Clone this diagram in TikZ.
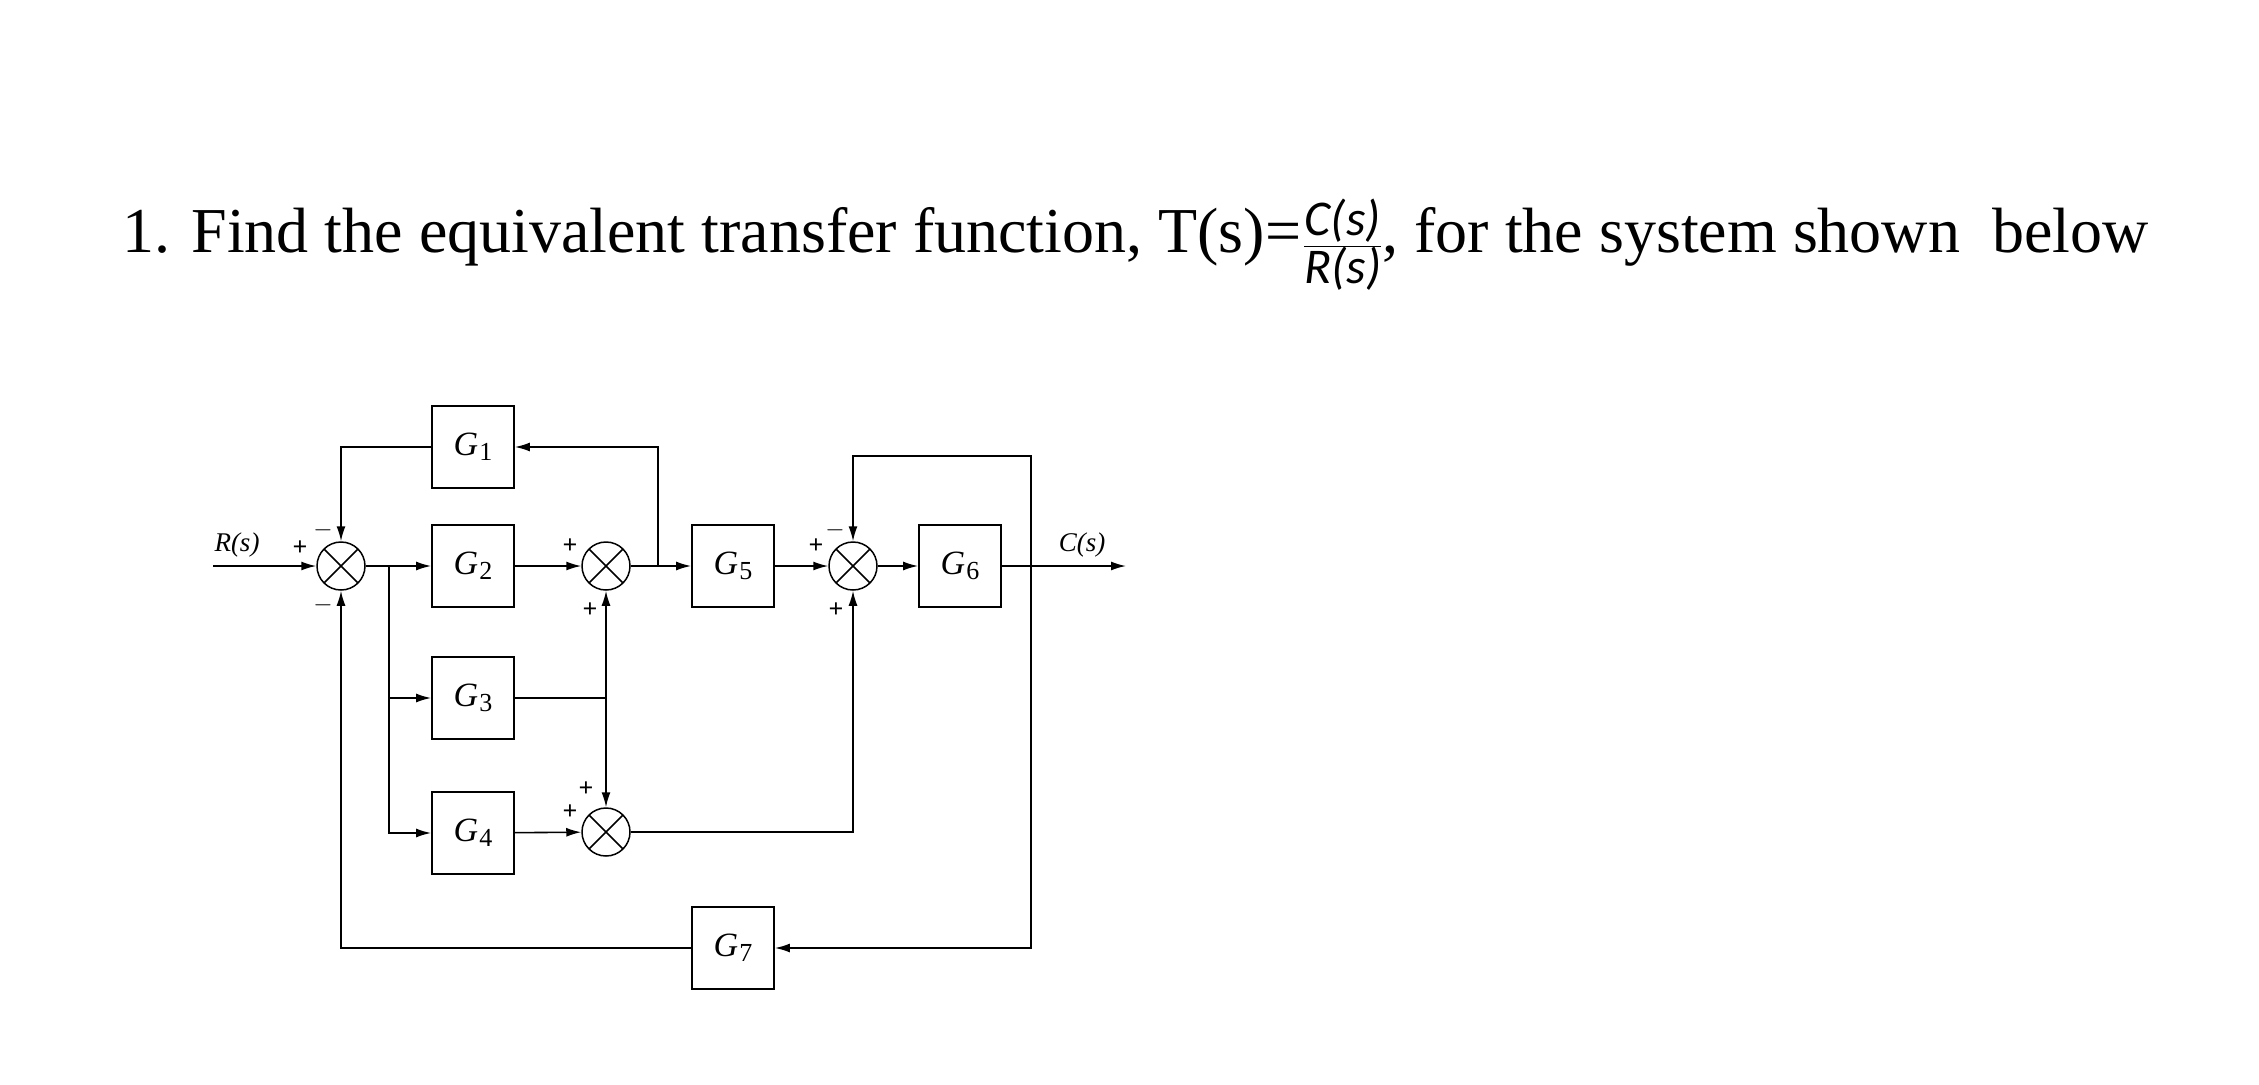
\documentclass[tikz,border=0pt]{standalone}
\usepackage{fontspec}
\setmainfont{Liberation Serif}
\newfontfamily\fracfont{Carlito}
\usetikzlibrary{arrows.meta}
\newcommand{\gl}[1]{\textit{G}\kern1pt\raisebox{-5pt}{\fontsize{26}{26}\selectfont #1}}
\newcommand{\fr}[1]{\hbox{\fracfont\itshape\fontsize{50}{50}\selectfont #1}}
\begin{document}
\begin{tikzpicture}[x=1pt,y=-1pt,
  blk/.style={draw,line width=1.8pt,minimum width=82pt,minimum height=82pt,inner sep=0pt,font=\fontsize{34}{34}\selectfont},
  sumj/.style={draw,circle,line width=1.5pt,minimum size=48pt,inner sep=0pt,path picture={\draw[line width=1.5pt] (path picture bounding box.north west)--(path picture bounding box.south east) (path picture bounding box.north east)--(path picture bounding box.south west);}},
  ln/.style={line width=1.6pt},
  ar/.style={line width=1.6pt,-{Latex[length=15pt,width=9pt]}},
  sg/.style={font=\fontsize{26}{26}\selectfont\bfseries,inner sep=1pt}]
\useasboundingbox (0,0) rectangle (2259,1084);
\node[anchor=base west,font=\fontsize{64}{64}\selectfont,inner sep=0pt] (title) at (122,252)
 {1. Find the equivalent transfer function, T(s)=\kern2pt$\displaystyle\frac{\fr{C(s)}}{\fr{R(s)}}$, for the system shown\ \ below};
\node[sumj] (s1) at (341,566) {};
\node[sumj] (s2) at (606,566) {};
\node[sumj] (s3) at (853,566) {};
\node[sumj] (s4) at (606,832) {};
\node[blk] (g1) at (473,447) {\gl1};
\node[blk] (g2) at (473,566) {\gl2};
\node[blk] (g3) at (473,698) {\gl3};
\node[blk] (g4) at (473,833) {\gl4};
\node[blk] (g5) at (733,566) {\gl5};
\node[blk] (g6) at (960,566) {\gl6};
\node[blk] (g7) at (733,948) {\gl7};
\coordinate (rin) at (213,566);
\coordinate (cout) at (1126,566);
\coordinate (b1) at (389,566);
\coordinate (b2) at (658,566);
\coordinate (b3) at (1031,566);
\node[font=\fontsize{27}{27}\selectfont\itshape] (rl) at (237,545) {R(s)};
\node[font=\fontsize{27}{27}\selectfont\itshape] (cl) at (1082,545) {C(s)};
\draw[ar] (rin) -- (s1);
\draw[ar] (s1) -- (g2);
\draw[ar] (g2) -- (s2);
\draw[ar] (s2) -- (g5);
\draw[ar] (g5) -- (s3);
\draw[ar] (s3) -- (g6);
\draw[ar] (g6) -- (cout);
\draw[ar] (b2) |- (g1);
\draw[ar] (g1) -| (s1);
\draw[ar] (b1) |- (g3);
\draw[ar] (b1) |- (g4);
\draw[ar] (g4) -- (s4);
\draw[ln] (g3.east) -- (606,698);
\draw[ar] (606,698) -- (s2);
\draw[ar] (606,698) -- (s4);
\draw[ar] (s4) -| (s3);
\draw[ar] (b3) |- (853,456) -- (s3);
\draw[ar] (b3) |- (g7);
\draw[ar] (g7) -| (s1);
\node[sg] (p1) at (300,548) {+};
\node[sg] (m1) at (323,530) {$-$};
\node[sg] (m2) at (323,605) {$-$};
\node[sg] (p2) at (570,546) {+};
\node[sg] (p3) at (590,610) {+};
\node[sg] (p4) at (816,546) {+};
\node[sg] (m3) at (835,530) {$-$};
\node[sg] (p5) at (836,610) {+};
\node[sg] (p6) at (586,789) {+};
\node[sg] (p7) at (570,812) {+};
\end{tikzpicture}
\end{document}
